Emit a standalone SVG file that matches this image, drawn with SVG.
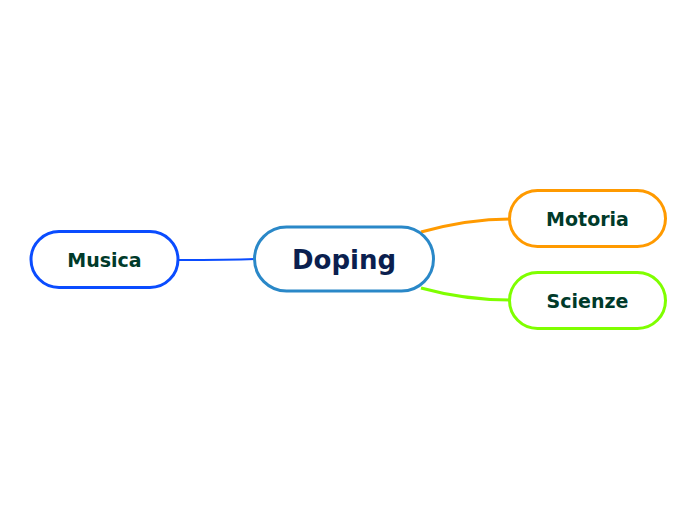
<svg xmlns="http://www.w3.org/2000/svg" width="696" height="520" viewBox="0 0 696 520">
<style>
text{font-family:"DejaVu Sans",sans-serif;font-weight:bold;text-anchor:middle}
.sub{font-size:19px;fill:#003a2a}
.box{fill:#fff;stroke-width:3}
</style>
<rect width="696" height="520" fill="#fff"/>
<g id="connectors" fill="none">
<path d="M178,260 C200,260 230,260 255,259" stroke="#0a4cff" stroke-width="2"/>
<path d="M421,232 C450,224 480,219 510,219" stroke="#ff9a00" stroke-width="3"/>
<path d="M421,288 C450,296 480,300 510,300" stroke="#7fff00" stroke-width="3"/>
</g>
<g id="doping"><rect class="box" x="254.5" y="227" width="179" height="64" rx="32" stroke="#2a88c8" fill="#fbfeff"/><text x="344" y="269" font-size="26" fill="#0b1f4f">Doping</text></g>
<g id="musica"><rect class="box" x="31" y="231.5" width="147" height="56" rx="28" stroke="#0a4cff"/><text x="104.5" y="267" class="sub">Musica</text></g>
<g id="motoria"><rect class="box" x="509.5" y="190.5" width="156" height="56" rx="28" stroke="#ff9a00"/><text x="587.5" y="226" class="sub">Motoria</text></g>
<g id="scienze"><rect class="box" x="509.5" y="272.5" width="156" height="56" rx="28" stroke="#7fff00"/><text x="587.5" y="308" class="sub">Scienze</text></g>
</svg>
